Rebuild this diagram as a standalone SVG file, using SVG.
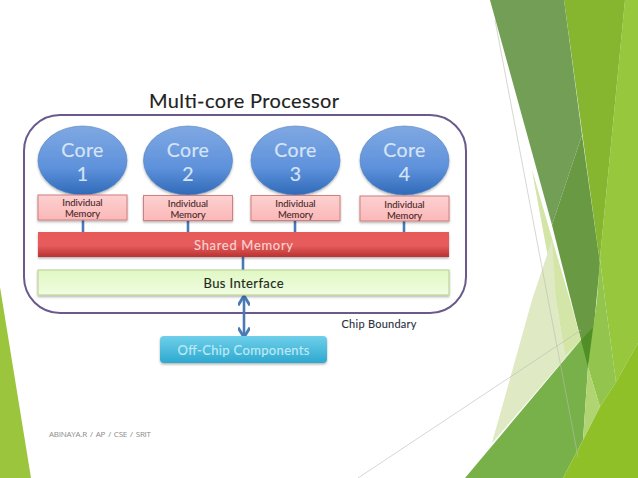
<svg xmlns="http://www.w3.org/2000/svg" width="638" height="478" viewBox="0 0 638 478">
<style>
text{font-family:"Lato","Open Sans","Liberation Sans",sans-serif;text-anchor:middle}
.core{font-size:19.5px;letter-spacing:.4px;fill:#d5e4f6;stroke:#d5e4f6;stroke-width:.2}
.mem{font-size:9.5px;fill:#4a2a2a;stroke:#4a2a2a;stroke-width:.12}
.ell{fill:url(#gb);stroke:#4f81bd;stroke-width:.6;filter:url(#sh)}
.box{fill:url(#gp);stroke:#cf7f7c;stroke-width:1;filter:url(#sh)}
.conn{stroke:#4a7ab5;stroke-width:2.6;fill:none}
</style>
<defs>
<linearGradient id="gb" x1="0" y1="0" x2="0" y2="1"><stop offset="0" stop-color="#7fa8e2"/><stop offset=".6" stop-color="#5f92dc"/><stop offset="1" stop-color="#2f6ab8"/></linearGradient>
<linearGradient id="gp" x1="0" y1="0" x2="0" y2="1"><stop offset="0" stop-color="#fdd0d0"/><stop offset="1" stop-color="#fbb8b8"/></linearGradient>
<linearGradient id="gr" x1="0" y1="0" x2="0" y2="1"><stop offset="0" stop-color="#e85a5a"/><stop offset=".55" stop-color="#e65b5b"/><stop offset="1" stop-color="#b83232"/></linearGradient>
<linearGradient id="gg" x1="0" y1="0" x2="0" y2="1"><stop offset="0" stop-color="#e0f8c4"/><stop offset="1" stop-color="#f0fce0"/></linearGradient>
<linearGradient id="gc" x1="0" y1="0" x2="0" y2="1"><stop offset="0" stop-color="#6fd0ea"/><stop offset="1" stop-color="#2ea8d0"/></linearGradient>
<filter id="sh" x="-10%" y="-20%" width="120%" height="150%"><feDropShadow dx="0" dy="1.5" stdDeviation="1" flood-color="#000" flood-opacity=".3"/></filter>
<marker id="ah" viewBox="0 0 10 10" refX="8" refY="5" markerWidth="4.6" markerHeight="4.6" orient="auto-start-reverse"><path d="M1 0L9 5L1 10" fill="none" stroke="#4a7ab5" stroke-width="2.4"/></marker>
</defs>
<rect width="638" height="478" fill="#fff"/>
<g id="background">
<path d="M0 287L31 478H0Z" fill="#9bc53c"/>
<path d="M625 0H638V343L616 382L605 300L600 258Z" fill="#96c73d"/>
<path d="M564 0H625L600 258L597 300L600 263Z" fill="#86b52f"/>
<path d="M490 0H564L582 135L552 225Z" fill="#729e55"/>
<path d="M582 135L600 263L590 368L581 340L552 225Z" fill="#699a43"/>
<path d="M532 170L552 240L492 443L581 340L565 356L556 300Z" fill="#dfeac5"/>
<path d="M532 170L570 300L581 340L565 356L556 300Z" fill="#d3e5a7"/>
<path d="M552 240L532 300L492 443L565 356L556 300Z" fill="#dfeac5"/>
<path d="M465 478L581 340L593 327L588 367L583 440L563 478Z" fill="#78b04a"/>
<path d="M593 327L581 340L588 367Z" fill="#4f8f25"/>
<path d="M600 258L605 300L616 382L600 407L588 367L597 300Z" fill="#92c44e"/>
<path d="M588 367L600 407L583 440Z" fill="#b0d472"/>
<path d="M563 478L583 440L600 407L616 382L638 343V478Z" fill="#8fc027"/>
<path d="M495 20L578 457M358 478L581 330" fill="none" stroke="#b8bcb0" stroke-width=".6"/>
</g>
<text x="244" y="108" font-size="20" fill="#222" stroke="#222" stroke-width=".15" textLength="190">Multi-core Processor</text>
<g id="chip-boundary"><rect x="24" y="115" width="442" height="198" rx="36" fill="#fff" stroke="#6a5a8c" stroke-width="2"/></g>
<g id="connectors" class="conn">
<path d="M83 220V232M188 221V232M295 221V232M404 221V232M243 257V270"/>
<path d="M244 297V336" marker-start="url(#ah)" marker-end="url(#ah)"/>
</g>
<g id="core1"><ellipse class="ell" cx="82.5" cy="160.5" rx="44.5" ry="34.5"/><text class="core" x="82.5" y="157">Core</text><text class="core" x="82.5" y="181">1</text></g>
<g id="core2"><ellipse class="ell" cx="188" cy="160.5" rx="44.5" ry="34.5"/><text class="core" x="188" y="157">Core</text><text class="core" x="188" y="181">2</text></g>
<g id="core3"><ellipse class="ell" cx="295.5" cy="160.5" rx="44.5" ry="34.5"/><text class="core" x="295.5" y="157">Core</text><text class="core" x="295.5" y="181">3</text></g>
<g id="core4"><ellipse class="ell" cx="404.5" cy="160.5" rx="44.5" ry="34.5"/><text class="core" x="404.5" y="157">Core</text><text class="core" x="404.5" y="181">4</text></g>
<g id="mem1"><rect class="box" x="38" y="195" width="89" height="25"/><text class="mem" x="82.5" y="206">Individual</text><text class="mem" x="82.5" y="217">Memory</text></g>
<g id="mem2"><rect class="box" x="143.5" y="195.5" width="89" height="25"/><text class="mem" x="188" y="207">Individual</text><text class="mem" x="188" y="218">Memory</text></g>
<g id="mem3"><rect class="box" x="251" y="195.5" width="89" height="25"/><text class="mem" x="295.5" y="207">Individual</text><text class="mem" x="295.5" y="218">Memory</text></g>
<g id="mem4"><rect class="box" x="360" y="196" width="89" height="25"/><text class="mem" x="404.5" y="208">Individual</text><text class="mem" x="404.5" y="219">Memory</text></g>
<g id="shared"><rect x="38" y="232" width="411" height="25" fill="url(#gr)" filter="url(#sh)"/><text x="243.5" y="250" font-size="13" fill="#f6d4d0" stroke="#f6d4d0" stroke-width=".15" textLength="99">Shared Memory</text></g>
<g id="bus"><rect x="38" y="270" width="411" height="25" fill="url(#gg)" stroke="#b5cf8f" filter="url(#sh)"/><text x="243.5" y="288" font-size="13" fill="#1c2a1c" stroke="#1c2a1c" stroke-width=".15" textLength="80">Bus Interface</text></g>
<g id="offchip"><rect x="160" y="336" width="167" height="27" rx="4" fill="url(#gc)" filter="url(#sh)"/><text x="243.5" y="355" font-size="13" fill="#bfeaf5" stroke="#bfeaf5" stroke-width=".15" textLength="132">Off-Chip Components</text></g>
<text x="379" y="328" font-size="11" fill="#2a3040" stroke="#2a3040" stroke-width=".1" textLength="75">Chip Boundary</text>
<text x="100" y="437" font-size="8" fill="#8a8a8a" word-spacing="1.2" textLength="102" style="font-family:'Open Sans','Liberation Sans',sans-serif">ABINAYA.R / AP / CSE / SRIT</text>
</svg>
